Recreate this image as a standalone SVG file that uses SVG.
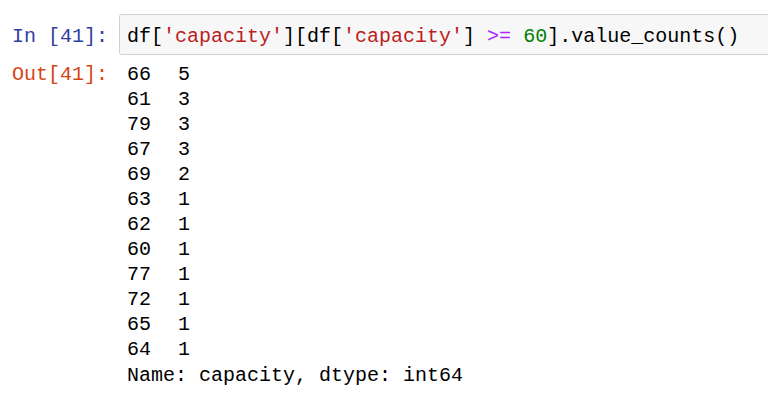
<svg xmlns="http://www.w3.org/2000/svg" width="768" height="400" viewBox="0 0 768 400">
<style>
text{font-family:"Liberation Mono","DejaVu Sans Mono",monospace;font-size:20px;fill:#000}
.p{fill:#303f9f}.o{fill:#d84315}.s{fill:#ba2121}.k{fill:#aa22ff}.n{fill:#008000}
</style>
<rect width="768" height="400" fill="#fff"/>
<g id="input">
<rect x="119.5" y="14.5" width="660" height="40" rx="2" fill="#f7f7f7" stroke="#cfcfcf"/>
<text class="p" x="12" y="42">In [41]:</text>
<text x="127" y="42">df[<tspan class="s">'capacity'</tspan>][df[<tspan class="s">'capacity'</tspan>] <tspan class="k">&gt;=</tspan> <tspan class="n">60</tspan>].value_counts()</text>
</g>
<g id="output">
<text class="o" x="12" y="80">Out[41]:</text>
<text x="127" y="80">66</text><text x="178" y="80">5</text>
<text x="127" y="105">61</text><text x="178" y="105">3</text>
<text x="127" y="130">79</text><text x="178" y="130">3</text>
<text x="127" y="155">67</text><text x="178" y="155">3</text>
<text x="127" y="180">69</text><text x="178" y="180">2</text>
<text x="127" y="205">63</text><text x="178" y="205">1</text>
<text x="127" y="230">62</text><text x="178" y="230">1</text>
<text x="127" y="255">60</text><text x="178" y="255">1</text>
<text x="127" y="280">77</text><text x="178" y="280">1</text>
<text x="127" y="305">72</text><text x="178" y="305">1</text>
<text x="127" y="330">65</text><text x="178" y="330">1</text>
<text x="127" y="355">64</text><text x="178" y="355">1</text>
<text x="127" y="381">Name: capacity, dtype: int64</text>
</g>
</svg>
